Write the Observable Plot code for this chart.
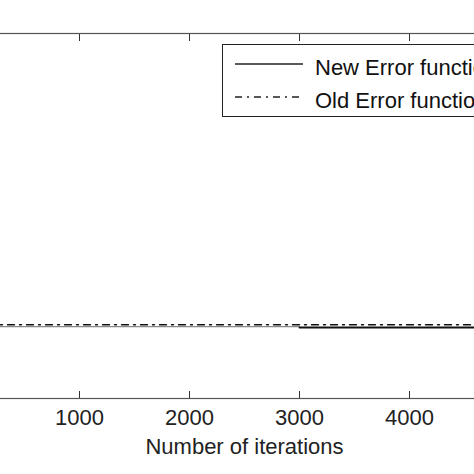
<!DOCTYPE html>
<html>
<head>
<meta charset="utf-8">
<script src="https://cdn.jsdelivr.net/npm/d3@7"></script>
<script src="https://cdn.jsdelivr.net/npm/@observablehq/plot@0.6"></script>
<style>
  html, body { margin: 0; padding: 0; background: #fff; }
  body { width: 474px; height: 474px; overflow: hidden; position: relative; font-family: "Liberation Sans", Arial, sans-serif; }
  #chart { position: absolute; left: -91px; top: 0; width: 620px; height: 474px; }
  #chart svg { max-width: none !important; width: 620px; height: 474px; }
  #legend { position: absolute; left: 222px; top: 44px; width: 320px; height: 73px; border: 1px solid #222; background: #fff; box-sizing: border-box; }
  .lg-row { position: absolute; left: 0; height: 30px; width: 100%; }
  .lg-row svg { position: absolute; left: 12px; top: 0; }
  .lg-row span { position: absolute; left: 92px; font-size: 22px; color: #111; white-space: nowrap; line-height: 1; }
</style>
</head>
<body>
<div id="chart"></div>
<div id="legend"></div>
<script>
// Data
const xTicks = [0, 1000, 2000, 3000, 4000, 5000];
const newIterA = [0, 3000];
const newErrA = [0.197, 0.197];
const newIterB = [3000, 5000];
const newErrB = [0.1945, 0.1945];
const oldIter = [0, 5000];
const oldErr = [0.202, 0.202];
const seriesNames = ["New Error function", "Old Error function"];
const xLabel = "Number of iterations";

const toRows = (xs, ys) => xs.map((x, i) => ({x, y: ys[i]}));

const plot = Plot.plot({
  width: 620,
  height: 474,
  marginLeft: 60,
  marginRight: 10,
  marginTop: 33,
  marginBottom: 76,
  style: {fontFamily: '"Liberation Sans", Arial, sans-serif', fontSize: "22px", color: "#222", background: "#fff", maxWidth: "none"},
  x: {domain: [0, 5000]},
  y: {domain: [0, 1], axis: null},
  marks: [
    Plot.frame({stroke: "#555", strokeWidth: 1.2}),
    Plot.axisX({anchor: "bottom", ticks: xTicks, tickSize: -7, tickFormat: () => "", label: null, stroke: "#333"}),
    Plot.axisX({anchor: "top", ticks: xTicks, tickSize: -7, tickFormat: () => "", label: null, stroke: "#333"}),
    Plot.axisX({anchor: "bottom", ticks: xTicks, tickSize: 0, tickPadding: 11, tickFormat: d => String(d), fill: "#222",
      label: xLabel, labelAnchor: "center", labelArrow: "none", labelOffset: 55}),
    Plot.line(toRows(newIterA, newErrA), {x: "x", y: "y", stroke: "#888", strokeWidth: 1.4}),
    Plot.line(toRows(newIterB, newErrB), {x: "x", y: "y", stroke: "#111", strokeWidth: 1.8}),
    Plot.line(toRows(oldIter, oldErr), {x: "x", y: "y", stroke: "#111", strokeWidth: 1.4, strokeDasharray: "7,5,2,5"})
  ]
});
document.getElementById("chart").appendChild(plot);

// Legend
const legend = document.getElementById("legend");
const dashes = [null, "7,5,2,5"];
seriesNames.forEach((name, i) => {
  const row = document.createElement("div");
  row.className = "lg-row";
  row.style.top = (i === 0 ? 4 : 37) + "px";
  row.innerHTML = `<svg width="70" height="30"><line x1="0" x2="68" y1="15" y2="15" stroke="#222" stroke-width="1.3" ${dashes[i] ? `stroke-dasharray="${dashes[i]}"` : ""}/></svg><span style="top:${8}px">${name}</span>`;
  legend.appendChild(row);
});
</script>
</body>
</html>
